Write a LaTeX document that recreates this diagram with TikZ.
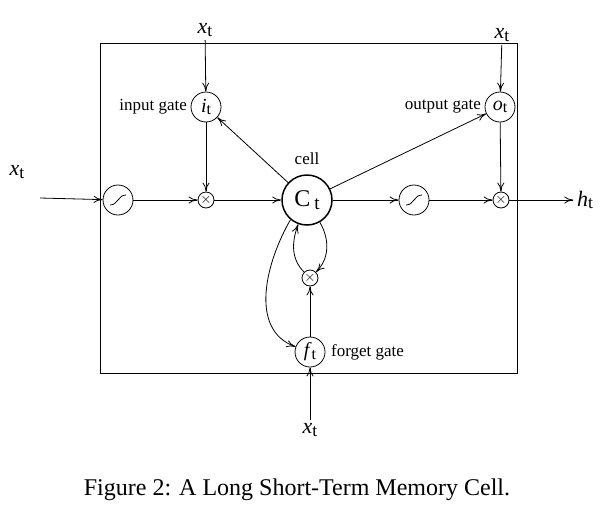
\documentclass[tikz,border=0pt]{standalone}
\usepackage{fontspec}
\setmainfont{Liberation Serif}
\usetikzlibrary{positioning,calc,arrows.meta}
\newcommand{\sub}[1]{\textit{#1}\raisebox{-0.25ex}{\scalebox{0.8}{t}}}
\begin{document}
\begin{tikzpicture}[x=1pt,y=-1pt,
    gate/.style={circle, draw, thick, minimum size=30pt, inner sep=0pt, font=\fontsize{20}{22}\selectfont},
    sig/.style={circle, draw, thick, minimum size=30pt, inner sep=0pt},
    mult/.style={circle, draw, minimum size=16pt, inner sep=0pt},
    lbl/.style={font=\fontsize{17}{20}\selectfont},
    ->,>={To[length=9pt,width=7pt,open]},thick]
    \tikzstyle{every node}=[font=\fontsize{22}{24}\selectfont]
    \useasboundingbox (0,0) rectangle (602,528);
    % frame
    \draw[-,semithick] (100,43) rectangle (517,373);

    \node[circle, draw, line width=1.5pt, minimum size=50pt, inner sep=0pt, font=\fontsize{24}{26}\selectfont]
    (cell) at (307,200) {C\,\raisebox{-0.25ex}{\scalebox{0.8}{t}}};
    \node[lbl, above=6pt of cell] (celllbl) {cell};

    \node[sig] (sigin) at (118,200) {};
    \draw[-] ($(sigin)+(-8,5)$) .. controls ($(sigin)+(0,5)$) and ($(sigin)+(0,-5)$) .. ($(sigin)+(8,-5)$);
    \node[mult] (multin) at (206,200) {\fontsize{14}{14}\selectfont$\times$};
    \node[gate] (ig) at (206,107) {\sub{i}};
    \node[lbl, left=0pt of ig] (iglbl) {input gate};

    \node[sig] (sigout) at (414,200) {};
    \draw[-] ($(sigout)+(-8,5)$) .. controls ($(sigout)+(0,5)$) and ($(sigout)+(0,-5)$) .. ($(sigout)+(8,-5)$);
    \node[mult] (multout) at (501,200) {\fontsize{14}{14}\selectfont$\times$};
    \node[gate] (og) at (500,107) {\sub{o}};
    \node[lbl, left=0pt of og] (oglbl) {output gate};

    \node[mult] (multf) at (310,278) {\fontsize{14}{14}\selectfont$\times$};
    \node[gate] (fg) at (310,352) {\sub{f}};
    \node[lbl, right=2pt of fg] (fglbl) {forget gate};

    \node (xl) at (17,172) {\sub{x}};
    \coordinate (xlend) at (40,198);
    \node (xi) at (205,30) {\sub{x}};
    \node (xo) at (502,35) {\sub{x}};
    \node (xf) at (310,430) {\sub{x}};
    \node (ht) at (585,200) {\sub{h}};

    \draw (xlend) -- (sigin);
    \draw (sigin) -- (multin);
    \draw (multin) -- (cell);
    \draw (xi) -- (ig);
    \draw (ig) -- (multin);
    \draw (cell) -- (ig);
    \draw (cell) -- (sigout);
    \draw (sigout) -- (multout);
    \draw (multout) -- (ht);
    \draw (xo) -- (og);
    \draw (og) -- (multout);
    \draw (cell) -- (og);
    \draw (xf) -- (fg);
    \draw (fg) -- (multf);
    \draw (cell.-60) to[out=-60,in=45] (multf);
    \draw (multf) to[out=135,in=-110] (cell.-110);
    \draw (cell.-130) to[out=-120,in=160] (fg);

    \node[font=\fontsize{24}{26}\selectfont] (caption) at (297,490) {Figure 2: A Long Short-Term Memory Cell.};
\end{tikzpicture}
\end{document}
